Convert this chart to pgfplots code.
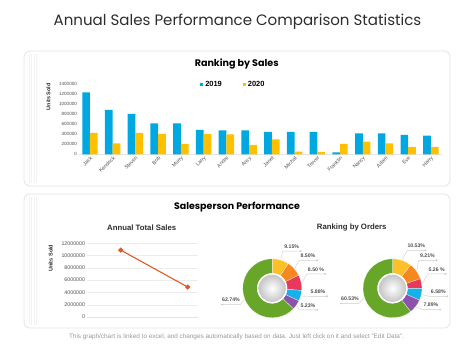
\documentclass[border=0pt]{standalone}
\usepackage{fontspec}
\setmainfont{Liberation Sans}
\newfontfamily\pop{Poppins}
\usepackage{pgfplots}
\pgfplotsset{compat=1.18}
\usetikzlibrary{calc}
\definecolor{barblue}{RGB}{0,168,226}
\definecolor{baryellow}{RGB}{255,192,0}
\definecolor{linecol}{RGB}{226,88,40}
\definecolor{dyellow}{RGB}{253,192,40}
\definecolor{dorange}{RGB}{247,136,30}
\definecolor{dred}{RGB}{234,56,92}
\definecolor{dblue}{RGB}{24,176,234}
\definecolor{dpurple}{RGB}{140,82,172}
\definecolor{dgreen}{RGB}{104,166,42}
\definecolor{tickgray}{RGB}{80,80,80}
\definecolor{titlegray}{RGB}{45,45,45}
\definecolor{panelgray}{RGB}{228,228,228}
\definecolor{leadgray}{RGB}{205,205,205}
\newcommand\fs[1]{\fontsize{#1}{#1}\selectfont}

% donut: center x, center y, list value/colour
\newcommand\donut[3]{%
  \foreach \v/\c [remember=\e as \a (initially 90)] in {#3} {
    \pgfmathsetmacro\e{\a-3.6*\v}
    \fill[\c, draw=white, line width=0.2bp] ($(#1,#2)+(\a:29.5)$) arc[start angle=\a, end angle=\e, radius=29.5]
      -- ($(#1,#2)+(\e:15)$) arc[start angle=\e, end angle=\a, radius=15] -- cycle;
  }
  \fill[white] (#1,#2) circle (15);
  \shade[inner color=white, outer color=gray!45] (#1,#2) circle (13.6);
}
% right label: cx, cy, angle, lx, ly, text
\newcommand\rlab[6]{%
  \draw[leadgray, line width=0.4bp] ($(#1,#2)+(#3:30.5)$) -- (#4-9,#5-4.6) -- (#4+9,#5-4.6);
  \fill[leadgray] (#4+9,#5-4.6) circle (1.1);
  \node[font=\bfseries\fs{5.2}, text=tickgray, inner sep=0pt] at (#4,#5) {#6};
}
\newcommand\llab[6]{%
  \draw[leadgray, line width=0.4bp] ($(#1,#2)+(#3:30.5)$) -- (#4+9,#5-4.6) -- (#4-9,#5-4.6);
  \fill[leadgray] (#4-9,#5-4.6) circle (1.1);
  \node[font=\bfseries\fs{5.2}, text=tickgray, inner sep=0pt] at (#4,#5) {#6};
}

\begin{document}
\begin{tikzpicture}[x=1bp,y=1bp]
\useasboundingbox (0,0) rectangle (474,355);
\fill[white] (0,0) rectangle (474,355);

% title
\node[text=titlegray, inner sep=0pt] at (237.5,333.3) {\pop\fs{15.1}Annual Sales Performance Comparison Statistics};

% panels
\draw[panelgray, line width=0.8bp, rounded corners=6] (24,169) rectangle (450,304);
\draw[panelgray, line width=0.8bp, rounded corners=6] (24,27) rectangle (450,161);
\foreach \xx in {29,31.5,34,36.5} {
  \draw[gray!10, line width=0.5bp] (\xx,172) -- (\xx,301);
  \draw[gray!10, line width=0.5bp] (\xx,30) -- (\xx,158);
}

% panel headings
\node[inner sep=0pt] at (236.7,291) {\pop\bfseries\fs{9.6}Ranking by Sales};
\node[inner sep=0pt] at (237,148.3) {\pop\bfseries\fs{9.5}Salesperson Performance};
\node[inner sep=0pt, text=titlegray] at (141.7,127.3) {\bfseries\fs{7.8}Annual Total Sales};
\node[inner sep=0pt, text=titlegray] at (351.7,127.3) {\bfseries\fs{7.8}Ranking by Orders};

% y labels
\node[rotate=90, inner sep=0pt, text=titlegray] at (48.3,258.3) {\bfseries\fs{5.5}Units Sold};
\node[rotate=90, inner sep=0pt, text=titlegray] at (50.7,96.7) {\bfseries\fs{5.5}Units Sold};

% bar chart
\begin{axis}[
  at={(78.6bp,200.7bp)}, anchor=south west, scale only axis,
  width=363.7bp, height=70bp,
  ybar=0pt, bar width=7.7bp,
  xmin=-0.5, xmax=15.5, ymin=0, ymax=1400000,
  enlargelimits=false,
  xtick={0,1,2,3,4,5,6,7,8,9,10,11,12,13,14,15},
  xticklabels={Jack,Kendrick,Steven,Bob,Murry,Larry,Andre,Ancy,Janet,Michal,Trever,Franklin,Nancy,Adam,Eve,Harry},
  xticklabel style={rotate=45, anchor=north east, font=\fs{5.2}, text=tickgray, inner sep=1bp},
  ytick={0,200000,400000,600000,800000,1000000,1200000,1400000},
  scaled y ticks=false,
  yticklabel style={font=\fs{4.6}, text=tickgray, /pgf/number format/fixed, /pgf/number format/1000 sep={}, inner sep=1.5bp},
  /pgf/number format/assume math mode=true,
  axis x line=bottom, axis y line=left,
  x axis line style={draw=panelgray, -},
  y axis line style={draw=none},
  major tick length=0pt,
  legend style={at={(0.334,0.99)}, anchor=west, draw=none, fill=none, legend columns=2,
    font=\bfseries\fs{7.5}, /tikz/every even column/.append style={column sep=19bp}, inner sep=0pt},
]
\addplot[fill=barblue, draw=none, legend image code/.code={\fill[barblue] (0bp,-1.5bp) rectangle (3bp,1.5bp);}] coordinates {
(0,1240000) (1,886000) (2,806000) (3,620000) (4,620000) (5,486000) (6,480000) (7,480000)
(8,446000) (9,446000) (10,446000) (11,40000) (12,420000) (13,420000) (14,390000) (15,372000)};
\addplot[fill=baryellow, draw=none, legend image code/.code={\fill[baryellow] (0bp,-1.5bp) rectangle (3bp,1.5bp);}] coordinates {
(0,430000) (1,220000) (2,430000) (3,406000) (4,210000) (5,406000) (6,400000) (7,186000)
(8,300000) (9,52000) (10,50000) (11,206000) (12,252000) (13,220000) (14,146000) (15,146000)};
\legend{2019,2020}
\end{axis}

% line chart
\begin{axis}[
  at={(86.7bp,38bp)}, anchor=south west, scale only axis,
  width=111.3bp, height=73.7bp,
  xmin=-0.507, xmax=1.154, ymin=0, ymax=12000000,
  xtick=\empty,
  ytick={0,2000000,4000000,6000000,8000000,10000000,12000000},
  scaled y ticks=false,
  yticklabel style={font=\fs{5.3}, text=tickgray, /pgf/number format/fixed, /pgf/number format/1000 sep={}, inner sep=1.5bp},
  /pgf/number format/assume math mode=true,
  ymajorgrids, grid style={draw=gray!15, line width=0.4bp},
  axis x line=bottom, axis y line=left,
  x axis line style={draw=panelgray, -},
  y axis line style={draw=none},
  major tick length=0pt,
]
\addplot[color=linecol, line width=1.1bp, mark=*, mark size=1.9bp, mark options={fill=linecol}] coordinates {(0,10900000) (1,4880000)};
\end{axis}

% donuts
\donut{272.2}{66.7}{9.15/dyellow,8.50/dorange,8.50/dred,5.88/dblue,5.23/dpurple,62.74/dgreen}
\donut{392.5}{66.7}{10.53/dyellow,9.21/dorange,5.26/dred,6.58/dblue,7.89/dpurple,60.53/dgreen}

\rlab{272.2}{66.7}{73.5}{291.7}{108.5}{9.15\%}
\rlab{272.2}{66.7}{41.8}{308}{99.3}{8.50\%}
\rlab{272.2}{66.7}{11.2}{316}{85.7}{8.50 \%}
\rlab{272.2}{66.7}{-14.7}{318}{63.3}{5.88\%}
\rlab{272.2}{66.7}{-34.7}{308}{49.7}{5.23\%}
\llab{272.2}{66.7}{203}{231}{55}{62.74\%}

\rlab{392.5}{66.7}{71}{416.3}{109.2}{10.53\%}
\rlab{392.5}{66.7}{36.4}{427.5}{99.3}{9.21\%}
\rlab{392.5}{66.7}{9.3}{436.7}{85.7}{5.26 \%}
\rlab{392.5}{66.7}{-12.1}{438.3}{63.3}{6.58\%}
\rlab{392.5}{66.7}{-38.2}{431}{50}{7.89\%}
\llab{392.5}{66.7}{199}{350}{56.2}{60.53\%}

% footer
\node[inner sep=0pt, text=gray!80] at (236.5,17.7) {\fs{6.4}This graph/chart is linked to excel, and changes automatically based on data. Just left click on it and select ``Edit Data''.};
\end{tikzpicture}
\end{document}
